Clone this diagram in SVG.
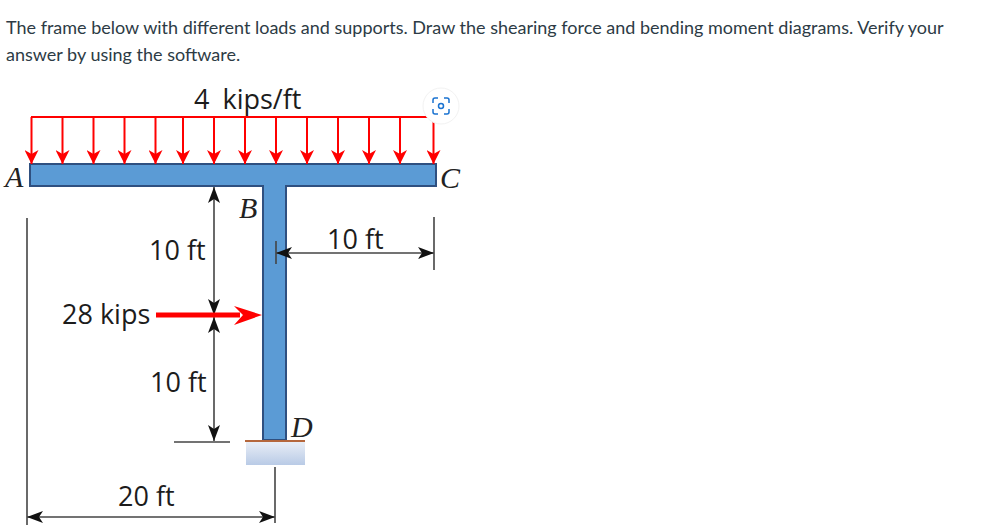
<svg xmlns="http://www.w3.org/2000/svg" width="988" height="531" viewBox="0 0 988 531">
<defs>
<style>
.q{font-family:"Lato","Carlito","Liberation Sans",sans-serif;font-size:18px;fill:#2d3b45}
.d{font-family:"Open Sans","Noto Sans",sans-serif;font-size:27px;fill:#1c1c1c}
.l{font-family:"Liberation Serif",serif;font-style:italic;font-size:30px;fill:#222}
.r{stroke:#f00;stroke-width:2;fill:none}
.k{stroke:#444;stroke-width:1.600;fill:none}
.dim{stroke:#444;stroke-width:1.600;fill:none;marker-start:url(#hs);marker-end:url(#he)}
</style>
<marker id="he" viewBox="0 0 16 12" refX="16" refY="6" markerWidth="16" markerHeight="12" markerUnits="userSpaceOnUse" orient="auto"><path d="M0,0L16,6L0,12L4,6Z" fill="#111"/></marker>
<marker id="hs" viewBox="0 0 16 12" refX="0" refY="6" markerWidth="16" markerHeight="12" markerUnits="userSpaceOnUse" orient="auto"><path d="M16,0L0,6L16,12L12,6Z" fill="#111"/></marker>
<marker id="ra" viewBox="0 0 14 14" refX="14" refY="7" markerWidth="14" markerHeight="14" markerUnits="userSpaceOnUse" orient="auto"><path d="M0,0L14,7L0,14L4,7Z" fill="#f00"/></marker>
<linearGradient id="g" x1="0" y1="0" x2="0" y2="1"><stop offset="0" stop-color="#e8edf6"/><stop offset="1" stop-color="#b9cbe6"/></linearGradient>
</defs>
<rect width="988" height="531" fill="#fff"/>
<text class="q" x="6" y="34">The frame below with different loads and supports. Draw the shearing force and bending moment diagrams. Verify your</text>
<text class="q" x="6" y="61">answer by using the software.</text>
<g id="frame">
<path d="M30,164H436V186H286V440H263V186H30Z" fill="#5b9bd5" stroke="#2f5080" stroke-width="2"/>
</g>
<g id="support">
<rect x="246" y="442" width="59" height="23" fill="url(#g)"/>
<line x1="245" y1="441" x2="305" y2="441" stroke="#b5673c" stroke-width="2"/>
</g>
<g id="connectors">
<g id="distributed-load">
<line class="r" x1="31" y1="117" x2="434" y2="117"/>
<path class="r" marker-end="url(#ra)" d="M31.500,117V164"/>
<path class="r" marker-end="url(#ra)" d="M62.500,117V164"/>
<path class="r" marker-end="url(#ra)" d="M93.500,117V164"/>
<path class="r" marker-end="url(#ra)" d="M124.500,117V164"/>
<path class="r" marker-end="url(#ra)" d="M155.500,117V164"/>
<path class="r" marker-end="url(#ra)" d="M183,117V164"/>
<path class="r" marker-end="url(#ra)" d="M214,117V164"/>
<path class="r" marker-end="url(#ra)" d="M245,117V164"/>
<path class="r" marker-end="url(#ra)" d="M276,117V164"/>
<path class="r" marker-end="url(#ra)" d="M307,117V164"/>
<path class="r" marker-end="url(#ra)" d="M338,117V164"/>
<path class="r" marker-end="url(#ra)" d="M369,117V164"/>
<path class="r" marker-end="url(#ra)" d="M400,117V164"/>
<path class="r" marker-end="url(#ra)" d="M433.500,117V164"/>
</g>
<line class="dim" x1="214" y1="187" x2="214" y2="315"/>
<line class="dim" x1="214" y1="317" x2="214" y2="441"/>
<line class="dim" x1="276" y1="253" x2="434" y2="253"/>
<line class="dim" x1="27" y1="517" x2="275" y2="517"/>
<line class="k" x1="174" y1="442" x2="230" y2="442"/>
<line class="k" x1="27" y1="218" x2="27" y2="525"/>
<line class="k" x1="275" y1="467" x2="275" y2="523"/>
<line class="k" x1="276" y1="241" x2="276" y2="264"/>
<line class="k" x1="434" y1="217" x2="434" y2="270"/>
<line x1="156" y1="315" x2="240" y2="315" stroke="#f00" stroke-width="5"/>
<path d="M234,306L262,315L234,325L243,315Z" fill="#f00"/>
</g>
<text class="d" x="194" y="109" word-spacing="6">4 kips/ft</text>
<text class="d" x="149" y="260">10 ft</text>
<text class="d" x="327" y="249">10 ft</text>
<text class="d" x="62" y="324">28 kips</text>
<text class="d" x="150" y="392">10 ft</text>
<text class="d" x="118" y="506">20 ft</text>
<text class="l" x="5" y="187">A</text>
<text class="l" x="440" y="188">C</text>
<text class="l" x="239" y="218">B</text>
<text class="l" x="291" y="437">D</text>
<g id="lens-icon">
<circle cx="441" cy="106" r="18" fill="#fff" stroke="#f2f2f2"/>
<path d="M433,103V100Q433,98 435,98H438M444,98H447Q449,98 449,100V103M449,109V112Q449,114 447,114H444M438,114H435Q433,114 433,112V109" fill="none" stroke="#1a73d1" stroke-width="1.500"/>
<circle cx="441" cy="106" r="2.500" fill="none" stroke="#1a73d1" stroke-width="1.500"/>
</g>
</svg>
